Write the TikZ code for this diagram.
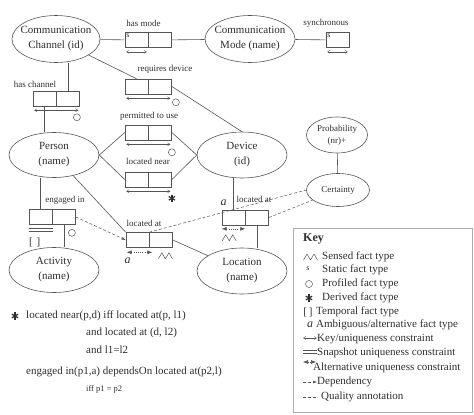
\documentclass[tikz,border=0pt]{standalone}
\usepackage{fontspec}
\setmainfont{Liberation Serif}
\usetikzlibrary{shapes.geometric,arrows.meta}
\definecolor{ink}{HTML}{2E2E2E}
\definecolor{lnc}{HTML}{555555}
\tikzset{
  ent/.style={ellipse, draw=lnc, line width=0.6pt, inner sep=0pt},
  entl/.style={align=center, text=ink, inner sep=0pt, font=\fontsize{11}{15}\selectfont},
  smentl/.style={align=center, text=ink, inner sep=0pt, font=\fontsize{9}{12}\selectfont},
  cell/.style={rectangle, draw=lnc, line width=0.6pt, minimum width=23pt, minimum height=15pt, inner sep=0pt},
  lab/.style={text=ink, inner sep=0pt, font=\fontsize{9}{11}\selectfont},
  smark/.style={text=ink, inner sep=1.5pt, anchor=north west, font=\fontsize{8}{9}\selectfont},
  conn/.style={draw=lnc, line width=0.6pt},
  uniq/.style={draw=lnc, line width=0.4pt, {Straight Barb[length=2.5pt,width=3pt]}-{Straight Barb[length=2.5pt,width=3pt]}},
  altu/.style={draw=lnc, line width=0.6pt, dash pattern=on 1pt off 1.2pt, {Latex[length=5pt,width=4pt]}-{Latex[length=5pt,width=4pt]}},
  snap/.style={draw=lnc, line width=0.5pt},
  dep/.style={draw=lnc, line width=0.5pt, dash pattern=on 3pt off 2pt, -{Latex[length=4pt,width=3pt]}},
  qual/.style={draw=lnc, line width=0.5pt, dash pattern=on 3pt off 2pt},
  prof/.style={circle, draw=lnc, line width=0.5pt, minimum size=7pt, inner sep=0pt},
  amb/.style={text=ink, inner sep=0pt, font=\fontsize{12}{12}\selectfont\itshape},
  brk/.style={text=ink, inner sep=0pt, font=\fontsize{11}{11}\selectfont},
  keyt/.style={anchor=west, text=ink, inner sep=0pt, font=\fontsize{11}{13}\selectfont},
  bodyt/.style={anchor=west, text=ink, inner sep=0pt, font=\fontsize{11}{13}\selectfont},
  sensedpic/.pic={\draw[lnc, line width=0.5pt] (-7,3) -- (-3.5,-3) -- (0,3) -- (3.5,-3) -- (7,3);},
  astpic/.pic={\foreach \ang in {90,30,150}{\draw[ink, line width=1.2pt] (\ang:3.6pt) -- (\ang+180:3.6pt);}},
}
\begin{document}
\begin{tikzpicture}[x=1pt,y=-1pt]
\useasboundingbox (0,0) rectangle (474,415);

% entities
\node[ent, minimum width=88pt, minimum height=47pt, label={[entl]center:{Communication\\Channel (id)}}] (cc) at (56,39) {};
\node[ent, minimum width=90pt, minimum height=47pt, label={[entl]center:{Communication\\Mode (name)}}] (cm) at (250,39) {};
\node[ent, minimum width=90pt, minimum height=45pt, label={[entl]center:{Person\\(name)}}] (per) at (54,155) {};
\node[ent, minimum width=90pt, minimum height=46pt, label={[entl]center:{Device\\(id)}}] (dev) at (242,155) {};
\node[ent, minimum width=90pt, minimum height=45pt, label={[entl]center:{Activity\\(name)}}] (act) at (54,270) {};
\node[ent, minimum width=90pt, minimum height=46pt, label={[entl]center:{Location\\(name)}}] (loc) at (242,271) {};
\node[ent, minimum width=61pt, minimum height=36pt, label={[smentl]center:{Probability\\(nr)+}}] (prob) at (337,135) {};
\node[ent, minimum width=63pt, minimum height=33pt, label={[smentl]center:{Certainty}}] (cert) at (338,190) {};

% fact types
\node[cell] (hm1) at (136.5,40) {};
\node[cell, anchor=west] (hm2) at (hm1.east) {};
\node[smark] (hms) at (hm1.north west) {s};
\node[cell] (sy) at (337.5,40) {};
\node[smark] (sys) at (sy.north west) {s};
\node[cell] (hc1) at (44.5,98.5) {};
\node[cell, anchor=west] (hc2) at (hc1.east) {};
\node[cell] (rd1) at (136.5,86.5) {};
\node[cell, anchor=west] (rd2) at (rd1.east) {};
\node[cell] (pu1) at (136.5,132.5) {};
\node[cell, anchor=west] (pu2) at (pu1.east) {};
\node[cell] (ln1) at (136.5,179.5) {};
\node[cell, anchor=west] (ln2) at (ln1.east) {};
\node[cell] (ei1) at (40.5,217) {};
\node[cell, anchor=west] (ei2) at (ei1.east) {};
\node[cell] (lp1) at (137.5,240) {};
\node[cell, anchor=west] (lp2) at (lp1.east) {};
\node[cell] (dl1) at (233.5,217.5) {};
\node[cell, anchor=west] (dl2) at (dl1.east) {};

% fact labels
\node[lab] (lhm) at (143.5,23) {has mode};
\node[lab] (lsy) at (326,23) {synchronous};
\node[lab] (lhc) at (35,84) {has channel};
\node[lab] (lrd) at (165,69) {requires device};
\node[lab] (lpu) at (149,116) {permitted to use};
\node[lab] (lln) at (148,161) {located near};
\node[lab] (lei) at (65,200) {engaged in};
\node[lab] (llp) at (144,223) {located at};
\node[lab] (ldl) at (254,199) {located at};

% connectors
\draw[conn] (cc) -- (hm1);
\draw[conn] (hm2) -- (cm);
\draw[conn] (cm) -- (sy);
\draw[conn] (hc2.north) -- (hc2.north |- cc.south);
\draw[conn] (hc1.south) -- (hc1.south |- per.north);
\draw[conn] (cc) -- (rd1.north);
\draw[conn] (rd2.east) -- (dev.north);
\draw[conn] (per.east) -- (pu1.west);
\draw[conn] (per.east) -- (ln1.west);
\draw[conn] (pu2.east) -- (dev.west);
\draw[conn] (ln2.east) -- (dev.west);
\draw[conn] (ei1.north) -- (ei1.north |- per.south);
\draw[conn] (ei2.south) -- (ei2.south |- act.north);
\draw[conn] (per) -- (lp1.north west);
\draw[conn] (lp2.east) -- (loc);
\draw[conn] (dl1.north) -- (dl1.north |- dev.south);
\draw[conn] (dl2.south) -- (dl2.south |- loc.north);
\draw[conn] (prob) -- (cert);
\draw[dep] (ei2.east) -- (lp1.west);
\draw[qual] (lp1.north east) -- (cert.west);
\draw[qual] (dl2.east) -- (cert);

% constraints
\draw[uniq] ([shift={(1.5,4)}]hm1.south west) -- ([shift={(-1.5,4)}]hm1.south east);
\draw[uniq] ([shift={(1.5,4)}]sy.south west) -- ([shift={(-1.5,4)}]sy.south east);
\draw[uniq] ([shift={(1.5,4)}]hc1.south west) -- ([shift={(-1.5,4)}]hc2.south east);
\draw[uniq] ([shift={(1.5,4)}]rd1.south west) -- ([shift={(-1.5,4)}]rd2.south east);
\draw[uniq] ([shift={(1.5,4)}]pu1.south west) -- ([shift={(-1.5,4)}]pu2.south east);
\draw[uniq] ([shift={(1.5,4)}]ln1.south west) -- ([shift={(-1.5,4)}]ln2.south east);
\draw[snap] ([shift={(0,3)}]ei1.south west) -- ([shift={(1,3)}]ei1.south east);
\draw[snap] ([shift={(0,6)}]ei1.south west) -- ([shift={(1,6)}]ei1.south east);
\draw[altu] ([shift={(1,4.5)}]lp1.south west) -- ([shift={(3,4.5)}]lp1.south east);
\draw[altu] ([shift={(0,3.5)}]dl1.south west) -- ([shift={(0,3.5)}]dl1.south east);

% markers
\node[prof] (p1) at ([shift={(-3,11)}]hc2.south east) {};
\node[prof] (p2) at ([shift={(4,8)}]rd2.south east) {};
\node[prof] (p3) at ([shift={(0,12)}]pu2.south east) {};
\node[prof] (p4) at ([shift={(-4,8)}]ei2.south east) {};
\pic at ([shift={(0,11)}]ln2.south east) {astpic};
\node[brk] (tb) at ([shift={(6,17.5)}]ei1.south west) {[\,\,]};
\node[amb] (a1) at ([shift={(2,12.5)}]lp1.south west) {a};
\pic at ([shift={(-7.5,8)}]lp2.south east) {sensedpic};
\node[amb] (a2) at ([shift={(2,-7)}]dl1.north west) {a};
\pic at ([shift={(7.5,12.5)}]dl1.south west) {sensedpic};

% derivation rules
\pic at (15,316) {astpic};
\node[bodyt] (r1) at (26,316) {located near(p,d) iff located at(p, l1)};
\node[bodyt] (r2) at (86,333) {and located at (d, l2)};
\node[bodyt] (r3) at (86,350) {and l1=l2};
\node[bodyt] (r4) at (26,372) {engaged in(p1,a) dependsOn located at(p2,l)};
\node[bodyt, font=\fontsize{8.5}{10}\selectfont] (r5) at (86,389) {iff p1 = p2};

% key
\node[draw=gray!65, line width=1pt, minimum width=179pt, minimum height=184pt, inner sep=0pt] (key) at (382.5,320) {};
\node[keyt, font=\fontsize{12}{14}\selectfont\bfseries] (kh) at (303,239) {Key};
\pic at (310.5,257) {sensedpic};
\node[keyt] (k1) at (322,257) {Sensed fact type};
\node[text=ink, inner sep=0pt, font=\fontsize{8}{9}\selectfont] (ks) at (308,269) {s};
\node[keyt] (k2) at (322,270) {Static fact type};
\node[prof] (kc) at (309,284) {};
\node[keyt] (k3) at (322,284) {Profiled fact type};
\pic at (309,298) {astpic};
\node[keyt] (k4) at (322,298) {Derived fact type};
\node[brk] (kb) at (308,312) {[\,]};
\node[keyt] (k5) at (316,312) {Temporal fact type};
\node[amb] (ka) at (310,325) {a};
\node[keyt] (k6) at (316,325) {Ambiguous/alternative fact type};
\draw[uniq] (303,338) -- (317,338);
\node[keyt] (k7) at (317,339) {Key/uniqueness constraint};
\draw[snap] (303,350.5) -- (317,350.5);
\draw[snap] (303,353.5) -- (317,353.5);
\node[keyt] (k8) at (317,353) {Snapshot uniqueness constraint};
\draw[altu] (303,362) -- (316,362);
\node[keyt] (k9) at (313,368) {Alternative uniqueness constraint};
\draw[dep] (303,382) -- (317,382);
\node[keyt] (k10) at (317,382) {Dependency};
\draw[qual] (303,397) -- (318,397);
\node[keyt] (k11) at (321,397) {Quality annotation};
\end{tikzpicture}
\end{document}
